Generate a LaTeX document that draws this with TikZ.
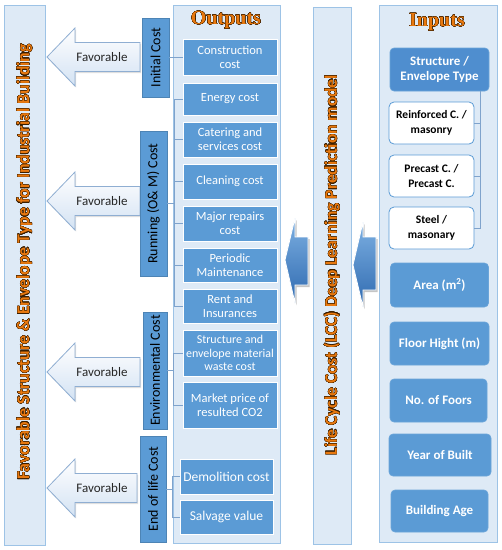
\documentclass[tikz,border=0pt]{standalone}
\usepackage{fontspec}
\setmainfont{Carlito}
\newfontfamily\titlefont{Liberation Serif}
\usepackage{contour}
\contourlength{0.22pt}
\contournumber{20}
\usetikzlibrary{shadows}
\definecolor{contF}{HTML}{DEEAF6}
\definecolor{contB}{HTML}{9DC3E6}
\definecolor{boxB}{HTML}{5B9BD5}
\definecolor{stB}{HTML}{4F8ECF}
\definecolor{connC}{HTML}{7FA3CC}
\definecolor{titleOr}{HTML}{E8780E}
\definecolor{titleDk}{HTML}{3A1E00}
\definecolor{favB}{HTML}{8FAED2}
\definecolor{favF}{HTML}{D3E2F3}
\definecolor{arrT}{HTML}{7DB0E2}
\definecolor{arrD}{HTML}{2F6AB0}
\tikzset{
  cont/.style={draw=contB, fill=contF, line width=0.9pt},
  outbox/.style={draw=white, line width=0.7pt, fill=boxB, text=white, align=center, inner sep=1pt,
    font=\fontsize{12.5}{13.6}\selectfont, minimum width=94},
  catbox/.style={draw=boxB!85!black, line width=0.4pt, fill=boxB, text=black, rotate=90, inner sep=1pt,
    font=\fontsize{14}{16}\selectfont},
  inbox/.style={draw=boxB!90!white, line width=0.6pt, fill=boxB, text=white, rounded corners=4pt, align=center,
    font=\bfseries\fontsize{13}{15}\selectfont, inner sep=1pt},
  subbox/.style={draw=boxB, line width=0.8pt, fill=white, text=black, rounded corners=5pt, align=center,
    font=\bfseries\fontsize{11.5}{14.5}\selectfont, inner sep=1pt, minimum width=85, minimum height=42},
  conn/.style={draw=connC, line width=0.7pt},
  favarrow/.style={draw=favB, line width=0.8pt, top color=white, bottom color=favF, drop shadow={opacity=0.25, shadow xshift=1pt, shadow yshift=-1.5pt}},
  bluearrow/.style={draw=white, line width=0.8pt, top color=arrT, bottom color=arrD, drop shadow={opacity=0.45, shadow xshift=1.5pt, shadow yshift=-2pt}},
  favtext/.style={font=\fontsize{13}{15}\selectfont, text=black!85},
  bigtext/.style={rotate=90, font=\bfseries\fontsize{17.8}{19}\selectfont, text=titleOr},
  titletext/.style={font=\titlefont\bfseries\fontsize{20}{22}\selectfont, text=titleOr}
}
\begin{document}
\begin{tikzpicture}[x=1pt,y=-1pt]
\useasboundingbox (0,0) rectangle (502,550);
\fill[white] (0,0) rectangle (502,550);
% containers
\draw[cont] (4,5) rectangle (45,545);
\draw[cont] (173,5) rectangle (280,543);
\draw[cont] (313,7) rectangle (351,544);
\draw[cont] (379,5) rectangle (497,542);
\node[bigtext] (fav) at (24.5,262) {\contour{titleDk}{Favorable Structure \& Envelope Type for Industrial Building}};
\node[bigtext, font=\bfseries\fontsize{17.5}{19}\selectfont] (lcc) at (332,265) {\contour{titleDk}{Life Cycle Cost (LCC) Deep Learning Prediction model}};
\node[titletext] (outt) at (226,20) {\contour{titleDk}{Outputs}};
\node[titletext] (int) at (437,22) {\contour{titleDk}{Inputs}};
% favorable arrows
\foreach \c/\r/\n in {57/140/1,201/140/2,372/140/3,488/137/4}{
  \draw[favarrow] (47,\c) -- (75,\c-29) -- (75,\c-14.5) -- (\r,\c-14.5) -- (\r,\c+14.5) -- (75,\c+14.5) -- (75,\c+29) -- cycle;
  \node[favtext] (fa\n) at (102,\c) {Favorable};
}
% category boxes
\node[catbox, minimum width=79, minimum height=27] (c1) at (155.5,57.5) {Initial Cost};
\node[catbox, minimum width=145, minimum height=27] (c2) at (153.5,203.5) {Running (O\& M) Cost};
\node[catbox, minimum width=117, minimum height=24] (c3) at (155,370.5) {Environmental Cost};
\node[catbox, minimum width=106, minimum height=26] (c4) at (153,489) {End of life Cost};
% output boxes
\node[outbox, minimum height=36] (o1) at (230,57) {Construction\\cost};
\node[outbox, minimum height=32] (o2) at (230,99) {Energy cost};
\node[outbox, minimum height=35] (o3) at (230,139.5) {Catering and\\services cost};
\node[outbox, minimum height=35] (o4) at (230,181.5) {Cleaning cost};
\node[outbox, minimum height=35] (o5) at (230,223.5) {Major repairs\\cost};
\node[outbox, minimum height=34] (o6) at (230,265) {Periodic\\Maintenance};
\node[outbox, minimum height=34] (o7) at (230,306) {Rent and\\Insurances};
\node[outbox, minimum height=46, font=\fontsize{12}{13.3}\selectfont] (o8) at (230,353) {Structure and\\envelope material\\waste cost};
\node[outbox, minimum height=46] (o9) at (230,405) {Market price of\\resulted CO2};
\node[outbox, minimum height=35, minimum width=93, font=\fontsize{13.5}{15}\selectfont] (o10) at (226.5,476.5) {Demolition cost};
\node[outbox, minimum height=34, minimum width=93, font=\fontsize{13.5}{15}\selectfont] (o11) at (226.5,517) {Salvage value};
% output connectors
\draw[conn] (c1.south) -- (c1.south -| o1.west);
\draw[conn] (c2.south) -- ++(8,0);
\draw[conn] (o2.west) -- ++(-8,0) |- (o7.west);
\foreach \o in {o3,o4,o5,o6}{\draw[conn] (\o.west) -- ++(-8,0);}
\draw[conn] (c3.south) -- ++(7,0);
\draw[conn] (o8.west) -- ++(-9,0) |- (o9.west);
\draw[conn] (c4.south) -- ++(7,0);
\draw[conn] (o10.west) -- ++(-7,0) |- (o11.west);
% blue arrows
\draw[bluearrow] (285,260) -- (295,218) -- (295,237) -- (308,237) -- (308,285) -- (295,285) -- (295,303) -- cycle;
\draw[bluearrow] (353,265) -- (363,222) -- (363,237) -- (376,237) -- (376,290) -- (363,290) -- (363,307) -- cycle;
% inputs
\node[inbox, fill=stB, minimum width=99, minimum height=43] (st) at (439.5,69.5) {Structure /\\Envelope Type};
\node[subbox] (s1) at (431.5,123) {Reinforced C. /\\masonry};
\node[subbox] (s2) at (431.5,176) {Precast C. /\\Precast C.};
\node[subbox] (s3) at (431.5,228) {Steel /\\masonary};
\draw[conn] (s3.east) -- ++(6,0) coordinate (sp) -- (sp |- st.south);
\draw[conn] (s1.east) -- ++(6,0);
\draw[conn] (s2.east) -- ++(6,0);
\node[inbox, minimum width=98, minimum height=44] (i1) at (439.5,285) {Area (m\textsuperscript{2})};
\node[inbox, minimum width=99, minimum height=43] (i2) at (439.5,343.5) {Floor Hight (m)};
\node[inbox, minimum width=97, minimum height=43] (i3) at (438.5,400.5) {No. of Foors};
\node[inbox, minimum width=102, minimum height=42] (i4) at (440,455) {Year of Built};
\node[inbox, minimum width=97, minimum height=42] (i5) at (439.5,511) {Building Age};
\end{tikzpicture}
\end{document}
